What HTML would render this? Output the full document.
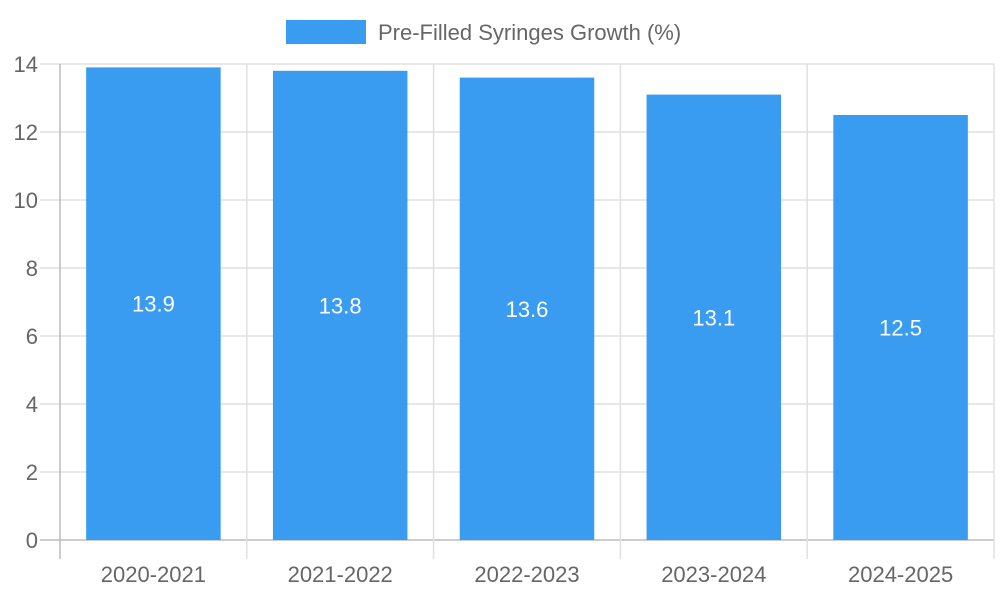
<!DOCTYPE html>
<html><head><meta charset="utf-8"><style>
body{margin:0;background:#fff;width:1000px;height:600px;overflow:hidden}
text{font-family:"Liberation Sans",sans-serif}
</style></head><body>
<svg id="chart" width="1000" height="600" xmlns="http://www.w3.org/2000/svg">
<rect x="286" y="20" width="80" height="24" fill="#399cf0"/>
<text x="378" y="40" font-size="22" fill="#666">Pre-Filled Syringes Growth (%)</text>
<g id="grid"></g><g id="bars"></g><g id="labels"></g>
</svg>
<script>
const categories=["2020-2021","2021-2022","2022-2023","2023-2024","2024-2025"];
const values=[13.9,13.8,13.6,13.1,12.5];
const yTicks=[0,2,4,6,8,10,12,14];
const X0=60,X1=994,Y0=540,Y1=64,YMAX=14;
const NS="http://www.w3.org/2000/svg";
const bw=(X1-X0)/categories.length;
const y=v=>Y0-(Y0-Y1)*v/YMAX;
const xs=i=>X0+bw*i;
function mk(tag,attrs,parent,text){const e=document.createElementNS(NS,tag);for(const k in attrs)e.setAttribute(k,attrs[k]);if(text!==undefined)e.textContent=text;document.getElementById(parent).appendChild(e);return e;}
yTicks.forEach(t=>{
 const l=mk('line',{x1:t===0?40:40,x2:X1,y1:y(t),y2:y(t),stroke:t===0?'#bbb':'#e0e0e0','stroke-width':1.5},'grid');
 
 
 const tx=mk('text',{x:38,y:y(t)+8,'font-size':22,fill:'#666','text-anchor':'end'},'grid',t);
 
 
});
for(let i=0;i<=categories.length;i++){
 const l=mk('line',{x1:xs(i),x2:xs(i),y1:Y1,y2:559,stroke:i===0?'#bbb':'#e0e0e0','stroke-width':1.5},'grid');
 
 
}
categories.forEach((c,i)=>{
 const w=bw*0.72,cx=xs(i)+bw/2;
 const r=mk('rect',{x:cx-w/2,y:y(values[i]),width:w,height:Y0-y(values[i]),fill:'#399cf0'},'bars');
 
 
 const v=mk('text',{x:cx,y:(y(values[i])+Y0)/2+8,'font-size':22,fill:'#fff','text-anchor':'middle'},'labels',values[i]);
 
 
 const t=mk('text',{x:cx,y:582,'font-size':22,fill:'#666','text-anchor':'middle'},'labels',c);
 
 
});
</script>
</body></html>
